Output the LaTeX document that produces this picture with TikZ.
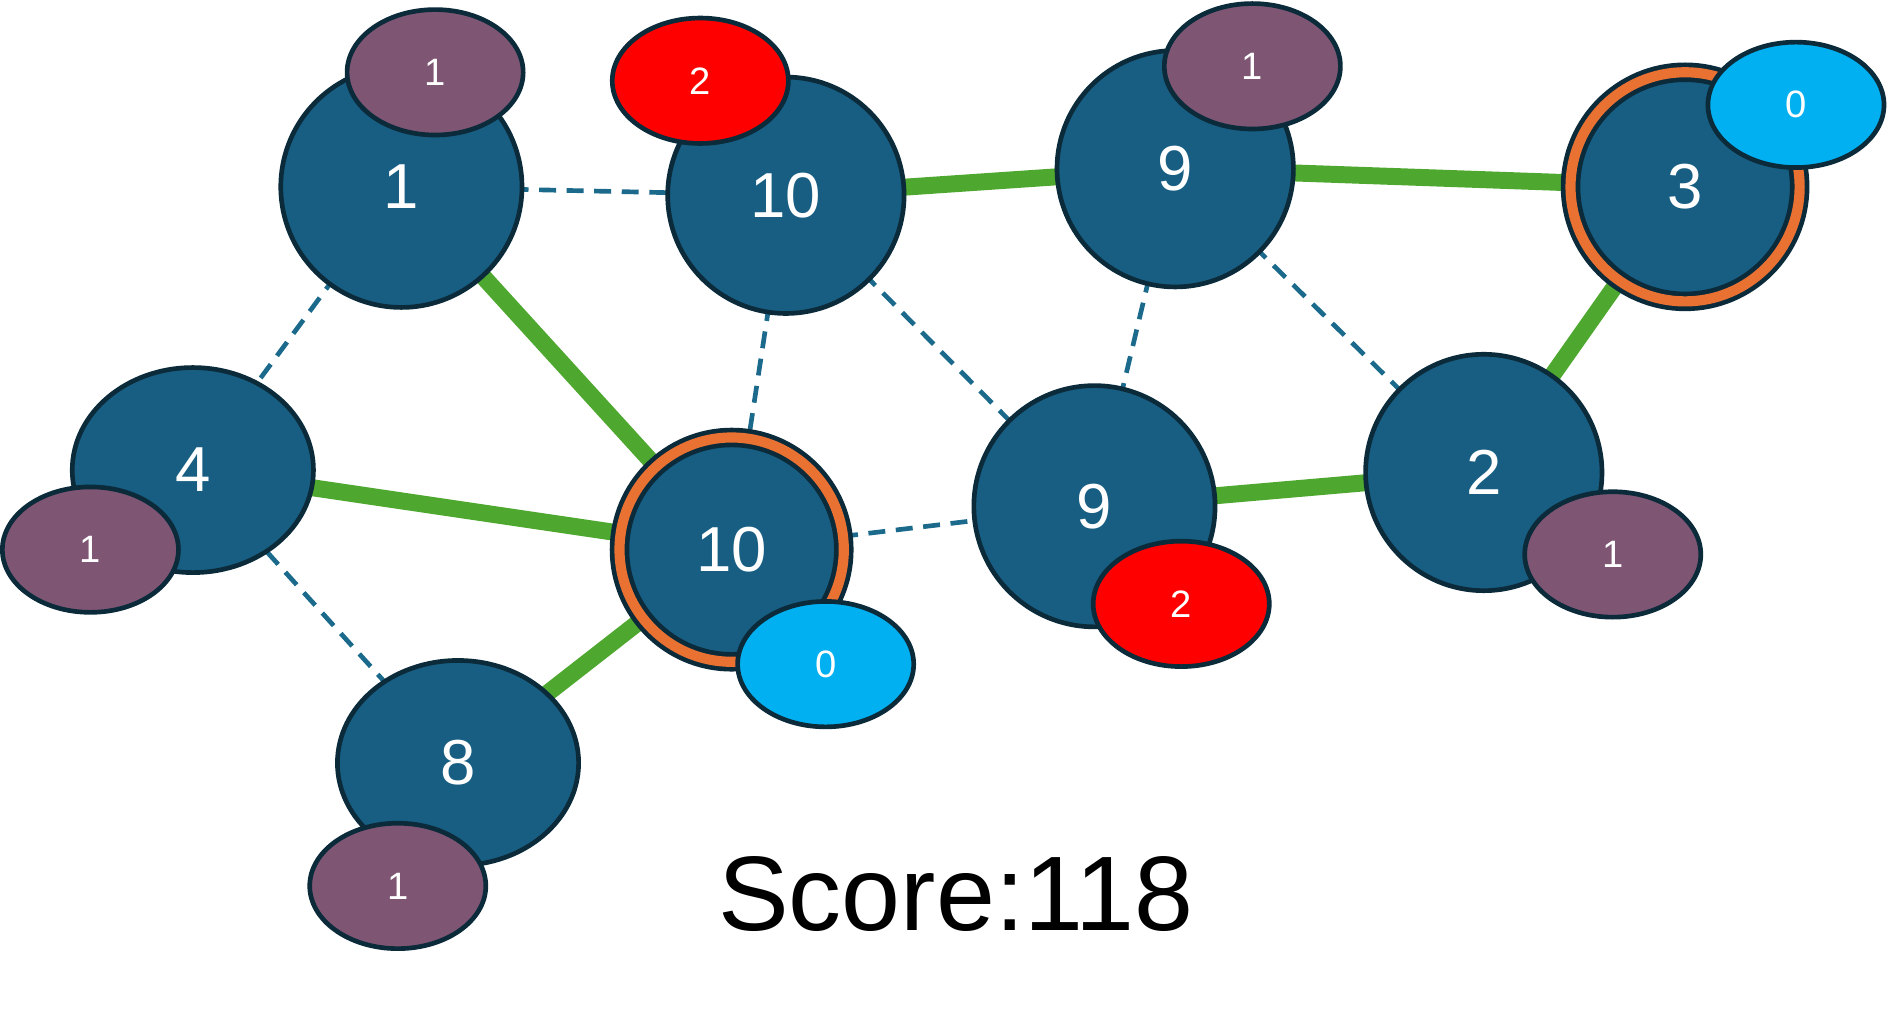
\documentclass[tikz,border=0pt]{standalone}
\usepackage{fontspec}
\setmainfont{Liberation Sans}
\usetikzlibrary{shapes.geometric}
\definecolor{nodeblue}{HTML}{175E82}
\definecolor{rimdark}{HTML}{0B2A3A}
\definecolor{edgegreen}{HTML}{4EA72E}
\definecolor{ringorange}{HTML}{E97132}
\definecolor{badgepurple}{HTML}{7E5674}
\definecolor{badgecyan}{HTML}{00B0F0}
\definecolor{dashblue}{HTML}{1B6A8C}
\begin{document}
\begin{tikzpicture}[x=0.01cm,y=-0.01cm]
\tikzstyle{vert} = [ellipse,draw=rimdark,fill=nodeblue,line width=1.1pt,text=white,font=\fontsize{15}{15}\selectfont,inner sep=0pt];
\tikzstyle{ring} = [vert,double=ringorange,double distance=2.4pt];
\tikzstyle{badge} = [ellipse,draw=rimdark,line width=1.1pt,text=white,font=\fontsize{9}{9}\selectfont,minimum width=1.46cm,minimum height=1.04cm,inner sep=0pt];
\tikzstyle{strong} = [edgegreen,line width=4pt];
\tikzstyle{weak} = [dashblue,line width=1.1pt,dash pattern=on 4pt off 2.5pt];
\useasboundingbox (0,0) rectangle (1568,855);

% node positions
\coordinate (pA) at (333,155);
\coordinate (pB) at (652,162);
\coordinate (pC) at (975,140);
\coordinate (pD) at (1398,155);
\coordinate (pE) at (160,390);
\coordinate (pF) at (607,456);
\coordinate (pG) at (908,420);
\coordinate (pH) at (1231,392);
\coordinate (pI) at (380,633);

% edges
\draw[strong] (pA) -- (pF);
\draw[strong] (pE) -- (pF);
\draw[strong] (pF) -- (pI);
\draw[strong] (pB) -- (pC);
\draw[strong] (pC) -- (pD);
\draw[strong] (pD) -- (pH);
\draw[strong] (pG) -- (pH);
\draw[weak] (pA) -- (pB);
\draw[weak] (pA) -- (pE);
\draw[weak] (pB) -- (pF);
\draw[weak] (pB) -- (pG);
\draw[weak] (pC) -- (pG);
\draw[weak] (pC) -- (pH);
\draw[weak] (pF) -- (pG);
\draw[weak] (pE) -- (pI);

% vertices
\node[vert,minimum width=2cm,minimum height=2cm] (A) at (pA) {1};
\node[vert,minimum width=1.96cm,minimum height=1.96cm] (B) at (pB) {10};
\node[vert,minimum width=1.96cm,minimum height=1.96cm] (C) at (pC) {9};
\node[ring,minimum width=1.9cm,minimum height=1.9cm] (D) at (pD) {3};
\node[vert,minimum width=2cm,minimum height=1.7cm] (E) at (pE) {4};
\node[ring,minimum width=1.86cm,minimum height=1.86cm] (F) at (pF) {10};
\node[vert,minimum width=2cm,minimum height=2cm] (G) at (pG) {9};
\node[vert,minimum width=1.96cm,minimum height=1.96cm] (H) at (pH) {2};
\node[vert,minimum width=2cm,minimum height=1.7cm] (I) at (pI) {8};

% badges
\node[badge,fill=badgepurple] (bA) at (361,60) {1};
\node[badge,fill=red] (bB) at (581,67) {2};
\node[badge,fill=badgepurple] (bC) at (1039,55) {1};
\node[badge,fill=badgecyan] (bD) at (1490,87) {0};
\node[badge,fill=badgepurple] (bE) at (75,456) {1};
\node[badge,fill=badgecyan] (bF) at (685,551) {0};
\node[badge,fill=red] (bG) at (980,501) {2};
\node[badge,fill=badgepurple] (bH) at (1338,460) {1};
\node[badge,fill=badgepurple] (bI) at (330,735) {1};

\node[font=\fontsize{25}{25}\selectfont] (score) at (793,742) {Score:118};
\end{tikzpicture}
\end{document}
